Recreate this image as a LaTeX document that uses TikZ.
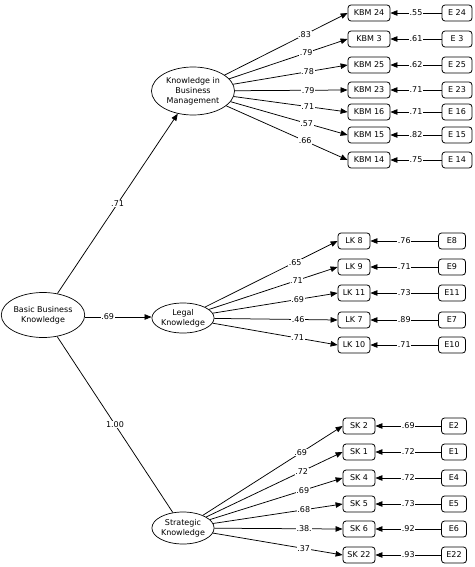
\documentclass[tikz,border=0pt]{standalone}
\usepackage{fontspec}
\setmainfont{DejaVu Sans}
\usetikzlibrary{shapes.geometric,arrows.meta}
\tikzset{
  lat/.style={draw,ellipse,inner sep=0pt,line width=0.7pt,align=center,font=\fontsize{8}{10}\selectfont},
  ind/.style={draw,rectangle,rounded corners=3pt,minimum height=16pt,inner sep=1pt,line width=0.8pt,font=\fontsize{8}{9}\selectfont},
  err/.style={ind},
  lbl/.style={fill=white,inner sep=0.6pt,font=\fontsize{8}{9}\selectfont},
  arr/.style={line width=0.75pt,-{Triangle[length=7pt,width=5.5pt]}},
  ln/.style={line width=0.75pt},
}
\begin{document}
\begin{tikzpicture}[x=1pt,y=-1pt]
\useasboundingbox (0,0) rectangle (474,567);
% latent variables
\node[lat,minimum width=82pt,minimum height=45pt] (bbk) at (43,315) {Basic Business\\Knowledge};
\node[lat,minimum width=83pt,minimum height=48pt] (kbm) at (193,91) {Knowledge in\\Business\\Management};
\node[lat,minimum width=62pt,minimum height=30pt] (lk) at (183,318) {Legal\\Knowledge};
\node[lat,minimum width=62pt,minimum height=32pt] (sk) at (183,528) {Strategic\\Knowledge};
% second-order paths
\draw[arr] (bbk) -- node[lbl,pos=0.5]{.71} (kbm);
\draw[arr] (bbk.east |- 0,317) -- node[lbl,pos=0.34]{.69} (lk.west |- 0,317);
\draw[ln] (bbk) -- node[lbl,pos=0.5]{1.00} (sk);
% KBM indicators
\foreach \n/\y/\l/\e/\el in {24/13/.83/24/.55, 3/39/.79/3/.61, 25/65/.78/25/.62, 23/90/.79/23/.71, 16/112/.71/16/.71, 15/135/.57/15/.82, 14/160/.66/14/.75}{
  \node[ind,minimum width=42pt] (kbm\n) at (369,\y) {KBM \n};
  \node[err,minimum width=30pt] (ek\n) at (457,\y) {E \e};
  \draw[arr] (kbm) -- node[lbl,pos=0.65]{\l} (kbm\n.west);
  \draw[arr] (ek\n) -- node[lbl,pos=0.5]{\el} (kbm\n);
}
% LK indicators
\foreach \n/\y/\l/\e/\el in {8/241/.65/8/.76, 9/267/.71/9/.71, 11/293/.69/11/.73, 7/320/.46/7/.89, 10/345/.71/10/.71}{
  \node[ind,minimum width=32pt] (lk\n) at (354,\y) {LK \n};
  \node[err,minimum width=27pt] (el\n) at (452,\y) {E\e};
  \draw[arr] (lk) -- node[lbl,pos=0.68]{\l} (lk\n.west);
  \draw[arr] (el\n) -- node[lbl,pos=0.5]{\el} (lk\n);
}
% SK indicators
\foreach \n/\y/\l/\e/\el in {2/426/.69/2/.69, 1/452/.72/1/.72, 4/478/.69/4/.72, 5/504/.68/5/.73, 6/529/.38./6/.92, 22/555/.37/22/.93}{
  \node[ind,minimum width=32pt] (sk\n) at (359,\y) {SK \n};
  \node[err,minimum width=25pt] (es\n) at (454,\y) {E\e};
  \draw[arr] (sk) -- node[lbl,pos=0.7]{\l} (sk\n.west);
  \draw[arr] (es\n) -- node[lbl,pos=0.5]{\el} (sk\n);
}
\end{tikzpicture}
\end{document}
